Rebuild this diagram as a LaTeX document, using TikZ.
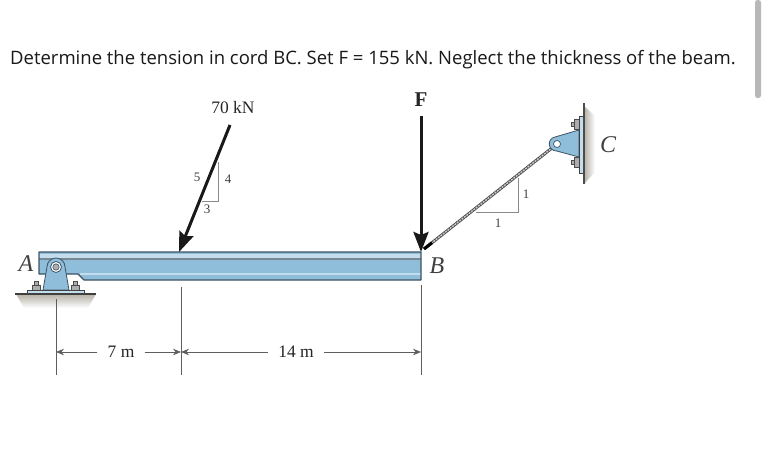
\documentclass[tikz,border=0pt]{standalone}
\usepackage{fontspec}
\setmainfont{Liberation Serif}
\newfontfamily\titlefont{Open Sans}
\usetikzlibrary{arrows.meta,calc}
\definecolor{beamblue}{HTML}{8FBEDB}
\definecolor{beamlight}{HTML}{C4DDEC}
\definecolor{beamdark}{HTML}{3E5364}
\definecolor{dimgray}{HTML}{5E5E5E}
\definecolor{thingray}{HTML}{8A8A8A}
\definecolor{shadowgray}{HTML}{B5B0A6}
\tikzset{
  lbl/.style={inner sep=0pt,font=\fontsize{17.5}{19}\selectfont,text=black!85},
  lblit/.style={inner sep=0pt,font=\fontsize{24}{26}\selectfont\itshape,text=black!75},
  small/.style={inner sep=0pt,font=\fontsize{13}{15}\selectfont,text=black!75},
  force/.style={line width=3pt,black!90,-{Stealth[length=20pt,width=15pt,inset=3pt]}},
  dimline/.style={draw=dimgray,line width=0.8pt},
  dimarrow/.style={dimline,-{Stealth[length=8pt,width=6.5pt]}},
  slope/.style={draw=thingray,line width=0.9pt},
  bracket/.style={fill=beamblue,draw=beamdark,line width=0.8pt},
  bolt/.style={fill=thingray!70,draw=black!70,line width=0.6pt},
}
\begin{document}
\begin{tikzpicture}[x=1pt,y=-1pt]
\useasboundingbox (0,0) rectangle (767,455);
\fill[white] (0,0) rectangle (767,455);
% scrollbar
\fill[black!28,rounded corners=2.5pt] (755,0) rectangle (761,98);
% title
\node[anchor=base west,inner sep=0pt,font=\fontsize{18.5}{22}\selectfont\titlefont,text=black!90] (title) at (10,64)
  {Determine the tension in cord BC. Set F = 155 kN. Neglect the thickness of the beam.};
% shadows
\shade[top color=shadowgray,bottom color=white] (16,294) -- (96,294) -- (88,308) -- (24,308) -- cycle;
\shade[left color=shadowgray,right color=white] (584,106) -- (595,116) -- (595,172) -- (584,184) -- cycle;
% beam
\fill[beamblue] (39,252) -- (421,252) -- (421,280) -- (84,280) -- (78,274) -- (39,274) -- cycle;
\fill[beamlight] (39,254) rectangle (421,258);
\fill[beamdark!70] (39,258) rectangle (421,260);
\fill[beamlight] (80,273) rectangle (421,275);
\draw[beamdark,line width=1.1pt,line join=round] (39,252) -- (421,252) -- (421,280) -- (84,280) -- (78,274) -- (39,274) -- cycle;
% support A
\fill[bolt] (32,285) rectangle (40,290);
\fill[bolt] (71,285) rectangle (79,290);
\draw[bolt] (34,281) rectangle (38,285);
\draw[bolt] (73,281) rectangle (77,285);
\draw[bracket,line join=round] (43,290) -- (47,267) arc[start angle=180,end angle=360,radius=9] -- (69,290) -- cycle;
\draw[fill=white,draw=beamdark,line width=0.8pt] (56,267) circle[radius=5.5];
\draw[fill=thingray!70,draw=beamdark,line width=0.6pt] (56,267) circle[radius=3.2];
\draw[fill=beamlight,draw=black!75,line width=0.8pt] (27,290) rectangle (84,293.5);
\draw[black!75,line width=1.2pt] (15,294) -- (96,294);
\node[lblit] (A) at (26,264) {A};
% dimension lines
\coordinate (d1t) at (56,299); \coordinate (d1b) at (56,375);
\coordinate (d2t) at (181,287); \coordinate (d2b) at (181,375);
\coordinate (d3t) at (421,285); \coordinate (d3b) at (421,375);
\draw[dimline] (d1t) -- (d1b);
\draw[dimline] (d2t) -- (d2b);
\draw[dimline] (d3t) -- (d3b);
\node[lbl] (d7) at (121,352) {7 m};
\node[lbl] (d14) at (296,352) {14 m};
\coordinate (d1) at (56,352); \coordinate (d2) at (181,352); \coordinate (d3) at (421,352);
\draw[dimarrow] (d7.west) ++(-10,0) -- (d1);
\draw[dimarrow] (d7.east) ++(10,0) -- (d2);
\draw[dimarrow] (d14.west) ++(-10,0) -- (d2);
\draw[dimarrow] (d14.east) ++(10,0) -- (d3);
% 70 kN force
\coordinate (p0) at (230,125); \coordinate (p1) at (179,252);
\draw[slope] (218,162) -- (218,201) -- (202,201);
\draw[force] (p0) -- (p1);
\node[lbl] (f70) at (233,108) {70 kN};
\node[small] (n5) at (197,177) {5};
\node[small] (n4) at (228,179) {4};
\node[small] (n3) at (207,209) {3};
% cord
\coordinate (cB) at (424,249); \coordinate (cC) at (557,144);
\draw[slope] (518,178) -- (518,212) -- (476,212);
\draw[black!70,line width=3pt] (cB) -- (cC);
\draw[white!80!black,line width=1.4pt,dash pattern=on 2pt off 1pt] (cB) -- (cC);
\draw[black,line width=3pt] (cB) -- ($(cB)!0.06!(cC)$);
\node[small] (s1) at (526,194) {1};
\node[small] (s2) at (498,223) {1};
% support C
\draw[bolt] (574,119) rectangle (579,129);
\draw[bolt] (574,157) rectangle (579,167);
\draw[bolt] (571,122) rectangle (574,126);
\draw[bolt] (571,160) rectangle (574,164);
\draw[bracket,line join=round] (579,130) -- (555,137) arc[start angle=-100,end angle=-270,radius=7] -- (579,157) -- cycle;
\draw[fill=white,draw=beamdark,line width=0.7pt] (557,144) circle[radius=3.5];
\draw[fill=beamlight,draw=black!75,line width=0.8pt] (579,116) rectangle (583,173);
\draw[black!70,line width=1.2pt] (584,103) -- (584,184);
\node[lblit] (C) at (608,145) {C};
\node[lblit] (B) at (437,266) {B};
% F force
\coordinate (F0) at (421,116); \coordinate (F1) at (421,252);
\draw[force] (F0) -- (F1);
\node[inner sep=0pt,font=\fontsize{21}{23}\selectfont\bfseries,text=black!85] (Flab) at (421,100) {F};
\end{tikzpicture}
\end{document}
